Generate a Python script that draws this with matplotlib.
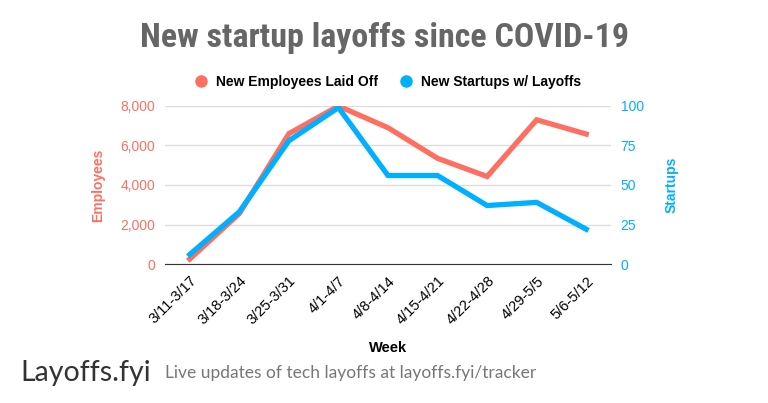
import matplotlib
matplotlib.use('Agg')
import matplotlib.pyplot as plt
from matplotlib.ticker import FuncFormatter
from matplotlib.lines import Line2D

weeks = ['3/11-3/17', '3/18-3/24', '3/25-3/31', '4/1-4/7', '4/8-4/14',
         '4/15-4/21', '4/22-4/28', '4/29-5/5', '5/6-5/12']
employees = [250, 2550, 6600, 8000, 6900, 5350, 4430, 7300, 6580]
startups = [6, 33, 78, 99, 56, 56, 37, 39, 22]

red = '#ff6f61'
blue = '#00b0ff'

plt.rcParams['font.family'] = ['Liberation Sans', 'DejaVu Sans']

fig = plt.figure(figsize=(7.68, 4.03), dpi=100)
ax = fig.add_axes([0.2148, 0.3449, 0.5808, 0.3921])
ax2 = ax.twinx()

x = list(range(len(weeks)))
ax.plot(x, employees, color=red, lw=3.8, solid_joinstyle='miter')
ax2.plot(x, startups, color=blue, lw=3.8, solid_joinstyle='miter')

ax.set_xlim(-0.5, len(weeks) - 0.5)
ax.set_ylim(0, 8000)
ax2.set_ylim(0, 100)
ax.set_yticks([0, 2000, 4000, 6000, 8000])
ax2.set_yticks([0, 25, 50, 75, 100])
ax.yaxis.set_major_formatter(FuncFormatter(lambda v, p: '{:,.0f}'.format(v)))

ax.grid(axis='y', color='#dddddd', lw=1)
ax.set_axisbelow(True)
for a in (ax, ax2):
    for s in a.spines.values():
        s.set_visible(False)
ax.spines['bottom'].set_visible(True)
ax.spines['bottom'].set_color('#333333')

ax.tick_params(axis='y', length=0, colors=red, labelsize=10, pad=7)
ax2.tick_params(axis='y', length=0, colors=blue, labelsize=10, pad=7)
ax.set_xticks(x)
ax.set_xticklabels(weeks, rotation=45, ha='right', rotation_mode='anchor', fontsize=10.5)
ax.tick_params(axis='x', length=0, pad=7)

ax.set_ylabel('Employees', color=red, fontweight='bold', fontsize=10, labelpad=11)
ax2.set_ylabel('Startups', color=blue, fontweight='bold', fontsize=10, labelpad=15)
ax.set_xlabel('Week', fontweight='bold', fontsize=10.5, labelpad=10)

handles = [Line2D([], [], marker='o', ls='none', color=red, markersize=8),
           Line2D([], [], marker='o', ls='none', color=blue, markersize=8)]
fig.legend(handles, ['New Employees Laid Off', 'New Startups w/ Layoffs'],
           loc='center', bbox_to_anchor=(0.5, 0.797), ncol=2, frameon=False,
           prop={'weight': 'bold', 'size': 10}, handletextpad=0.1, columnspacing=1.0)

fig.text(0.5, 0.883, 'New startup layoffs since COVID-19', ha='center', va='baseline',
         fontsize=24.5, fontweight='bold', color='#666666', family='Roboto Condensed')
fig.text(0.027, 0.075, 'Layoffs.fyi', ha='left', va='center', fontsize=20.5,
         color='#333333', family='Lato')
fig.text(0.215, 0.075, 'Live updates of tech layoffs at layoffs.fyi/tracker', ha='left',
         va='center', fontsize=12.5, color='#777777', family='Lato')

fig.savefig('out.png', dpi=100)
